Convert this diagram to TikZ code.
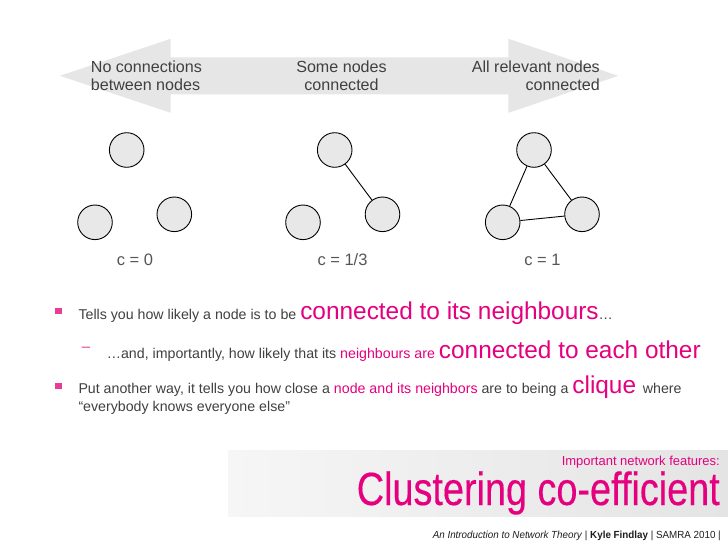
\documentclass[tikz,border=0pt]{standalone}
\usepackage{fontspec}
\setmainfont{Liberation Sans}
\newfontfamily\titlefont[FakeBold=0.35]{Liberation Sans}
\usepackage{graphicx}
\definecolor{txtgray}{RGB}{64,64,64}
\definecolor{clbl}{RGB}{85,85,85}
\definecolor{pinkc}{RGB}{228,0,126}
\definecolor{bulletpink}{RGB}{232,60,150}
\definecolor{nodefill}{RGB}{232,232,232}
\definecolor{arrowfill}{RGB}{230,230,230}
\definecolor{bannerL}{RGB}{246,246,246}
\definecolor{bannerR}{RGB}{228,228,228}
\definecolor{footc}{RGB}{30,30,30}
\newcommand\pinkbig[1]{{\color{pinkc}\fontsize{24.4}{28}\selectfont #1}}
\newcommand\pinksm[1]{{\color{pinkc}#1}}
\tikzset{
  lbl/.style={inner sep=0pt, text=txtgray, font=\fontsize{16.1}{19}\selectfont},
  clab/.style={inner sep=0pt, text=clbl, font=\fontsize{16.5}{19}\selectfont, anchor=base},
  body/.style={inner sep=0pt, text=txtgray, font=\fontsize{14.2}{17}\selectfont, anchor=base west},
  vert/.style={circle, draw=black, line width=0.9pt, fill=nodefill, minimum size=34.6pt, inner sep=0pt},
  edge/.style={line width=0.9pt, draw=black},
  bulletsq/.style={fill=bulletpink, inner sep=0pt, minimum width=6.5pt, minimum height=6pt}
}
\begin{document}
\begin{tikzpicture}[x=1pt,y=-1pt]
\useasboundingbox (0,0) rectangle (728,546);
\fill[white] (0,0) rectangle (728,546);
% double arrow
\fill[arrowfill] (60,75.8) -- (170.7,38.8) -- (170.7,57.3) -- (508.3,57.3) -- (508.3,38.8)
  -- (618.3,75.8) -- (508.3,112.8) -- (508.3,94.3) -- (170.7,94.3) -- (170.7,112.8) -- cycle;
\node[lbl, anchor=base west] (a1) at (90.7,72.7) {No connections};
\node[lbl, anchor=base west] (a2) at (90.7,90) {between nodes};
\node[lbl, anchor=base] (m1) at (341.5,72.7) {Some nodes};
\node[lbl, anchor=base] (m2) at (341.5,90) {connected};
\node[lbl, anchor=base east] (r1) at (600,72.7) {All relevant nodes};
\node[lbl, anchor=base east] (r2) at (600,90) {connected};
% graph 1
\node[vert] (g1t) at (126.7,150) {};
\node[vert] (g1l) at (95,222.3) {};
\node[vert] (g1r) at (174.3,214.3) {};
% graph 2
\node[vert] (g2t) at (334.7,150) {};
\node[vert] (g2l) at (303,222.3) {};
\node[vert] (g2r) at (382.5,214.3) {};
\draw[edge] (g2t) -- (g2r);
% graph 3
\node[vert] (g3t) at (534,150) {};
\node[vert] (g3l) at (502.7,222.3) {};
\node[vert] (g3r) at (582,214.3) {};
\draw[edge] (g3t) -- (g3l);
\draw[edge] (g3t) -- (g3r);
\draw[edge] (g3l) -- (g3r);
\node[clab] (c0) at (135,265.7) {c = 0};
\node[clab] (c13) at (342.5,265.7) {c = 1/3};
\node[clab] (c1) at (542.5,265.7) {c = 1};
% bullets
\node[bulletsq] (s1) at (58.3,310.5) {};
\node[body] (b1) at (78.3,319) {Tells you how likely a node is to be \pinkbig{connected to its neighbours}…};
\node[inner sep=0pt, text=bulletpink, font=\fontsize{15}{17}\selectfont, anchor=base] (d2) at (86,351.6) {–};
\node[body] (b2) at (106.7,358) {…and, importantly, how likely that its \pinksm{neighbours are} \pinkbig{connected to each other}};
\node[bulletsq] (s3) at (58.3,385.8) {};
\node[body] (b3) at (78.3,393.3) {Put another way, it tells you how close a \pinksm{node and its neighbors} are to being a \pinkbig{clique }where};
\node[body] (b4) at (78.3,411.7) {“everybody knows everyone else”};
% banner
\shade[left color=bannerL, right color=bannerR] (228,450) rectangle (728,516.7);
\node[inner sep=0pt, anchor=base east, text=pinkc] (sub) at (720,465) {\resizebox{158pt}{\height}{\fontsize{13}{15}\selectfont Important network features:}};
\node[inner sep=0pt, anchor=base east, text=pinkc] (title) at (720,505) {\resizebox{363pt}{\height}{\titlefont\fontsize{46.5}{50}\selectfont Clustering co-efficient}};
\node[inner sep=0pt, anchor=base east, text=footc] (foot) at (721,538.3) {\resizebox{288pt}{\height}{\fontsize{10.3}{12}\selectfont \textit{An Introduction to Network Theory} | \textbf{Kyle Findlay} | SAMRA 2010 |}};
\end{tikzpicture}
\end{document}
